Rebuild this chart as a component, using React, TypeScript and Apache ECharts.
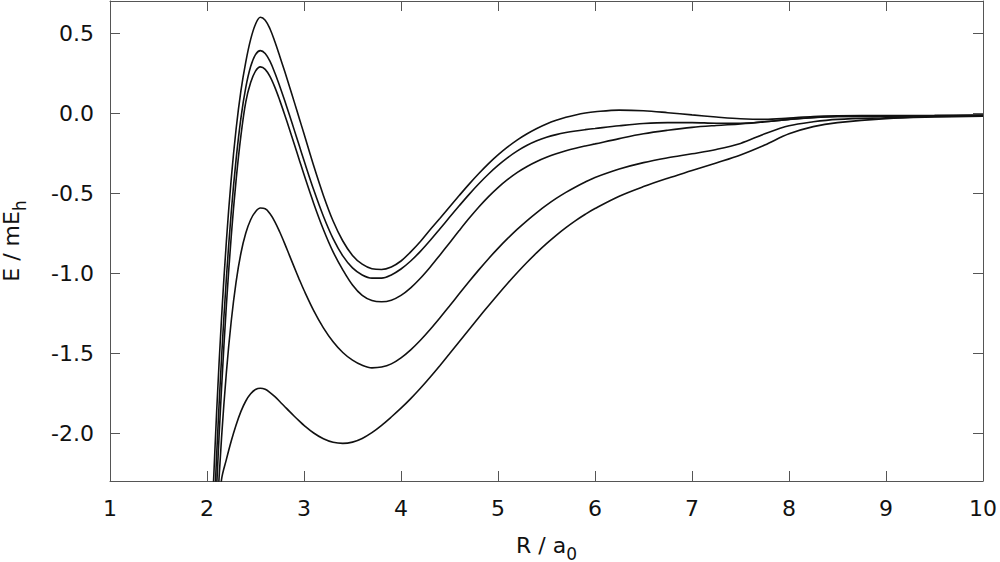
import React, { useEffect, useRef } from "react";
import * as echarts from "echarts";

const xs = [
  2.05, 2.1, 2.15, 2.2, 2.25, 2.3, 2.35, 2.4, 2.45, 2.5, 2.55, 2.6, 2.65, 2.7, 2.75, 2.8, 2.85, 2.9, 2.95, 3.0,
  3.1, 3.2, 3.3, 3.4, 3.5, 3.6, 3.7, 3.8, 3.9, 4.0,
  4.1, 4.2, 4.3, 4.4, 4.5, 4.6, 4.7, 4.8, 4.9, 5.0,
  5.1, 5.2, 5.3, 5.4, 5.5, 5.6, 5.7, 5.8, 5.9, 6.0,
  6.25, 6.5, 6.75, 7.0, 7.25, 7.5, 7.75, 8.0, 8.25, 8.5, 9.0, 9.5, 10.0,
];

const curveA = [
  -2.55, -1.86, -1.28, -0.8, -0.41, -0.1, 0.14, 0.32, 0.46, 0.555, 0.598, 0.58, 0.525, 0.445, 0.355, 0.262, 0.166, 0.068, -0.031, -0.13,
  -0.33, -0.515, -0.675, -0.8, -0.89, -0.945, -0.973, -0.978, -0.962, -0.925,
  -0.868, -0.803, -0.73, -0.66, -0.588, -0.516, -0.446, -0.38, -0.318, -0.262,
  -0.212, -0.168, -0.13, -0.097, -0.069, -0.046, -0.027, -0.012, 0.0, 0.008,
  0.018, 0.014, 0.002, -0.012, -0.025, -0.036, -0.04, -0.032, -0.022, -0.018, -0.016, -0.015, -0.013,
];
const curveB = [
  -2.85, -2.13, -1.53, -1.03, -0.62, -0.29, -0.03, 0.16, 0.29, 0.365, 0.39, 0.372, 0.322, 0.25, 0.167, 0.079, -0.013, -0.107, -0.202, -0.297,
  -0.48, -0.645, -0.785, -0.893, -0.968, -1.012, -1.032, -1.032, -1.012, -0.975,
  -0.925, -0.865, -0.797, -0.725, -0.652, -0.58, -0.51, -0.444, -0.383, -0.328,
  -0.279, -0.237, -0.202, -0.174, -0.152, -0.135, -0.122, -0.112, -0.104, -0.097,
  -0.08, -0.066, -0.06, -0.06, -0.064, -0.064, -0.055, -0.04, -0.028, -0.022, -0.02, -0.018, -0.016,
];
const curveC = [
  -3.05, -2.33, -1.72, -1.2, -0.77, -0.42, -0.14, 0.07, 0.19, 0.262, 0.288, 0.273, 0.227, 0.16, 0.079, -0.009, -0.101, -0.195, -0.29, -0.385,
  -0.565, -0.728, -0.868, -0.98, -1.075, -1.14, -1.172, -1.18, -1.17, -1.14,
  -1.093, -1.033, -0.964, -0.889, -0.812, -0.735, -0.66, -0.589, -0.524, -0.466,
  -0.415, -0.371, -0.334, -0.303, -0.277, -0.255, -0.236, -0.22, -0.206, -0.193,
  -0.16, -0.13, -0.108, -0.09, -0.078, -0.068, -0.055, -0.04, -0.029, -0.022, -0.019, -0.017, -0.015,
];
const curveD = [
  -3.2, -2.55, -2.03, -1.62, -1.3, -1.055, -0.875, -0.75, -0.667, -0.617, -0.594, -0.598, -0.63, -0.68, -0.744, -0.815, -0.89, -0.965, -1.038, -1.108,
  -1.235, -1.343, -1.43, -1.497, -1.545, -1.577, -1.593, -1.588, -1.568, -1.53,
  -1.48, -1.42, -1.353, -1.281, -1.206, -1.13, -1.055, -0.982, -0.912, -0.846,
  -0.784, -0.726, -0.672, -0.622, -0.576, -0.534, -0.496, -0.462, -0.431, -0.403,
  -0.35, -0.31, -0.28, -0.255, -0.228, -0.19, -0.13, -0.08, -0.055, -0.04, -0.03, -0.022, -0.018,
];
const curveE = [
  -3.4, -2.6, -2.29, -2.165, -2.05, -1.95, -1.865, -1.8, -1.755, -1.728, -1.72, -1.727, -1.747, -1.773, -1.803, -1.834, -1.865, -1.895, -1.924, -1.952,
  -2.0, -2.036, -2.058, -2.065, -2.057, -2.034, -1.998, -1.952, -1.9, -1.845,
  -1.785, -1.72, -1.651, -1.579, -1.505, -1.43, -1.355, -1.28, -1.206, -1.134,
  -1.064, -0.997, -0.933, -0.873, -0.817, -0.765, -0.717, -0.673, -0.633, -0.597,
  -0.52, -0.46, -0.408, -0.36, -0.312, -0.262, -0.2, -0.13, -0.085, -0.06, -0.035, -0.025, -0.02,
];

const curves = [curveA, curveB, curveC, curveD, curveE];
const yTicks = [-2.0, -1.5, -1.0, -0.5, 0.0, 0.5];

const FONT = "DejaVu Sans";
const AXIS_COLOR = "#555";
const TEXT_COLOR = "#111";

export default function App() {
  const ref = useRef<HTMLDivElement>(null);
  useEffect(() => {
    if (!ref.current) return;
    const chart = echarts.init(ref.current, undefined, { renderer: "svg" });
    const axisCommon = {
      type: "value" as const,
      axisLine: { show: true, onZero: false, lineStyle: { color: AXIS_COLOR, width: 1 } },
      splitLine: { show: false },
    };
    const nameStyle = {
      fontFamily: FONT,
      fontSize: 22,
      color: TEXT_COLOR,
      rich: {
        m: { fontFamily: FONT, fontSize: 22, color: TEXT_COLOR, verticalAlign: "top" },
        sub: { fontFamily: FONT, fontSize: 17, color: TEXT_COLOR, verticalAlign: "bottom", lineHeight: 28 },
      },
    };
    chart.setOption({
      animation: false,
      backgroundColor: "#fff",
      grid: { left: 110, right: 17, top: 1, bottom: 81, outerBoundsMode: "none", containLabel: false },
      xAxis: [
        {
          ...axisCommon,
          position: "bottom",
          min: 1,
          max: 10,
          interval: 1,
          axisTick: { show: true, inside: true, length: 10, lineStyle: { color: AXIS_COLOR } },
          axisLabel: { show: true, margin: 16, fontFamily: FONT, fontSize: 22, color: TEXT_COLOR },
          name: "{m|R / a}{sub|0}",
          nameLocation: "middle",
          nameGap: 53,
          nameTextStyle: nameStyle,
        },
        {
          ...axisCommon,
          position: "top",
          min: 1,
          max: 10,
          interval: 1,
          axisTick: { show: true, inside: true, length: 10, lineStyle: { color: AXIS_COLOR } },
          axisLabel: { show: false },
        },
      ],
      yAxis: [
        {
          ...axisCommon,
          position: "left",
          min: -2.3,
          max: 0.7,
          axisTick: { show: true, inside: true, length: 10, customValues: yTicks, lineStyle: { color: AXIS_COLOR } },
          axisLabel: {
            show: true,
            margin: 16,
            customValues: yTicks,
            fontFamily: FONT,
            fontSize: 22,
            color: TEXT_COLOR,
            formatter: (v: number) => v.toFixed(1),
          },
          name: "{m|E / mE}{sub|h}",
          nameLocation: "middle",
          nameGap: 82,
          nameTextStyle: nameStyle,
        },
        {
          ...axisCommon,
          position: "right",
          min: -2.3,
          max: 0.7,
          axisTick: { show: true, inside: true, length: 10, customValues: yTicks, lineStyle: { color: AXIS_COLOR } },
          axisLabel: { show: false },
        },
      ],
      series: curves.map((c) => ({
        type: "line",
        data: xs.map((x, i) => [x, c[i]]),
        xAxisIndex: 0,
        yAxisIndex: 0,
        smooth: 0.35,
        showSymbol: false,
        clip: true,
        lineStyle: { color: "#111", width: 1.6 },
      })),
    });
    return () => chart.dispose();
  }, []);
  return <div ref={ref} style={{ width: 1000, height: 562, position: "fixed", left: 0, top: 0 }} />;
}
